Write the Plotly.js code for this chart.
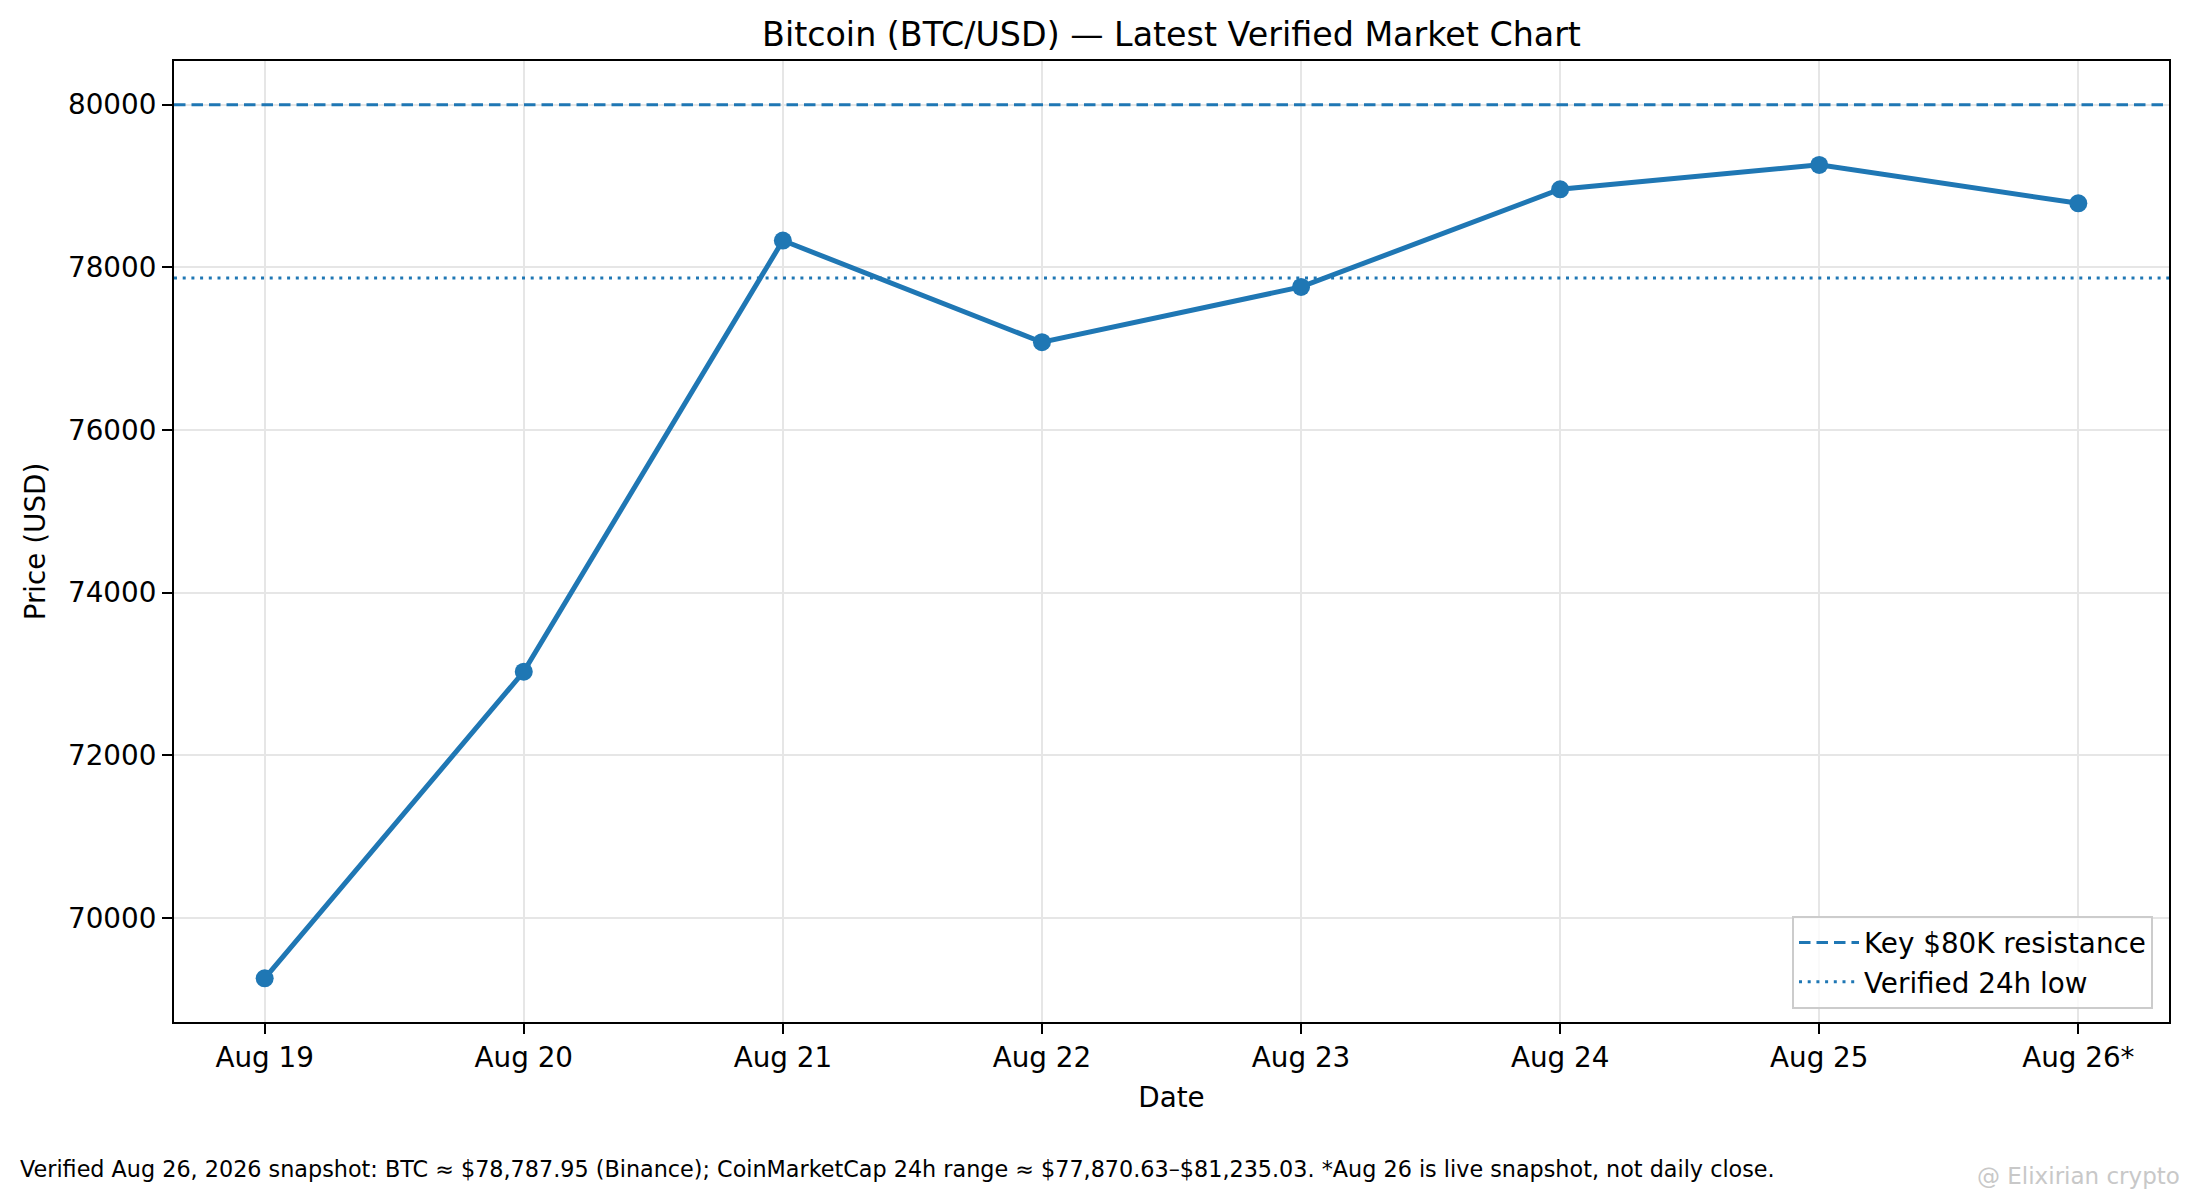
<!DOCTYPE html>
<html>
<head>
<meta charset="utf-8">
<script src="https://cdn.plot.ly/plotly-3.0.1.min.js"></script>
<style>
  html, body { margin: 0; padding: 0; background: #ffffff; }
  #chart { width: 2188px; height: 1199px; }
</style>
</head>
<body>
<div id="chart"></div>
<script>
// ---- data ----
const dates = ["Aug 19", "Aug 20", "Aug 21", "Aug 22", "Aug 23", "Aug 24", "Aug 25", "Aug 26*"];
const prices = [69260, 73030, 78330, 77080, 77760, 78960, 79260, 78787.95];
const resistanceLevel = 80000;
const verifiedLow = 77870.63;
const resistanceLabel = "Key $80K resistance";
const lowLabel = "Verified 24h low";
const titleText = "Bitcoin (BTC/USD) \u2014 Latest Verified Market Chart";
const xTitle = "Date";
const yTitle = "Price (USD)";
const yTicks = [70000, 72000, 74000, 76000, 78000, 80000];
const footnote = "Verified Aug 26, 2026 snapshot: BTC \u2248 $78,787.95 (Binance); CoinMarketCap 24h range \u2248 $77,870.63\u2013$81,235.03. *Aug 26 is live snapshot, not daily close.";
const watermark = "@ Elixirian crypto";

const blue = "#1f77b4";
const FONT = "DejaVu Sans, sans-serif";
const W = 2188, H = 1199;
const M = { l: 174, r: 19, t: 61, b: 177 };
const plotW = W - M.l - M.r, plotH = H - M.t - M.b;
// helpers converting figure pixels to paper coordinates (for text placement only)
const px = (x) => (x - M.l) / plotW;
const py = (y) => (H - M.b - y) / plotH;

// y range like matplotlib autoscale (5% margins, including axhline)
const yMin = Math.min(...prices, resistanceLevel, verifiedLow);
const yMax = Math.max(...prices, resistanceLevel, verifiedLow);
const ySpan = yMax - yMin;
const xPad = (dates.length - 1) * 0.05;

const traces = [
  {
    x: dates,
    y: prices,
    type: "scatter",
    mode: "lines+markers",
    line: { color: blue, width: 5 },
    marker: { color: blue, size: 18 },
    showlegend: false
  }
];

const axisCommon = {
  showgrid: true,
  gridcolor: "#e6e6e6",
  gridwidth: 2,
  zeroline: false,
  showline: true,
  linecolor: "#000000",
  linewidth: 2,
  mirror: true,
  ticks: "outside",
  ticklen: 10,
  tickwidth: 2,
  tickcolor: "#000000",
  tickfont: { family: FONT, size: 27.8, color: "#000000" }
};

const layout = {
  width: W,
  height: H,
  paper_bgcolor: "#ffffff",
  plot_bgcolor: "#ffffff",
  font: { family: FONT, color: "#000000", size: 27.8 },
  margin: { l: M.l, r: M.r, t: M.t, b: M.b, pad: 0 },
  title: {
    text: titleText,
    font: { family: FONT, size: 33.3, color: "#000000" },
    x: 0.5, xref: "paper", xanchor: "center",
    y: 1 - 34 / H, yref: "container", yanchor: "middle"
  },
  xaxis: Object.assign({}, axisCommon, {
    type: "category",
    range: [-xPad, dates.length - 1 + xPad],
    title: { text: xTitle, font: { family: FONT, size: 27.8, color: "#000000" }, standoff: 14 }
  }),
  yaxis: Object.assign({}, axisCommon, {
    range: [yMin - ySpan * 0.05, yMax + ySpan * 0.05],
    tickvals: yTicks,
    ticktext: yTicks.map(String),
    title: { text: yTitle, font: { family: FONT, size: 27.8, color: "#000000" }, standoff: 14 }
  }),
  shapes: [
    {
      type: "line", xref: "paper", x0: 0, x1: 1, yref: "y", y0: resistanceLevel, y1: resistanceLevel,
      line: { color: blue, width: 3, dash: "11.5px,6px" },
      showlegend: true, name: resistanceLabel, layer: "above"
    },
    {
      type: "line", xref: "paper", x0: 0, x1: 1, yref: "y", y0: verifiedLow, y1: verifiedLow,
      line: { color: blue, width: 3, dash: "3px,5.7px" },
      showlegend: true, name: lowLabel, layer: "above"
    }
  ],
  legend: {
    x: px(2153), xanchor: "right",
    y: py(1009), yanchor: "bottom",
    bgcolor: "rgba(255,255,255,0.8)",
    bordercolor: "#cccccc",
    borderwidth: 2,
    font: { family: FONT, size: 27.8, color: "#000000" },
    itemwidth: 60,
    tracegroupgap: 0
  },
  annotations: [
    {
      text: footnote, xref: "paper", yref: "paper",
      x: px(18), y: py(1169), xanchor: "left", yanchor: "middle",
      showarrow: false, font: { family: FONT, size: 22.3, color: "#000000" }
    },
    {
      text: watermark, xref: "paper", yref: "paper",
      x: px(2182), y: py(1176), xanchor: "right", yanchor: "middle",
      showarrow: false, font: { family: FONT, size: 23, color: "#c8c8c8" }
    }
  ],
  hovermode: false
};

Plotly.newPlot("chart", traces, layout, { displayModeBar: false, staticPlot: true });
</script>
</body>
</html>
